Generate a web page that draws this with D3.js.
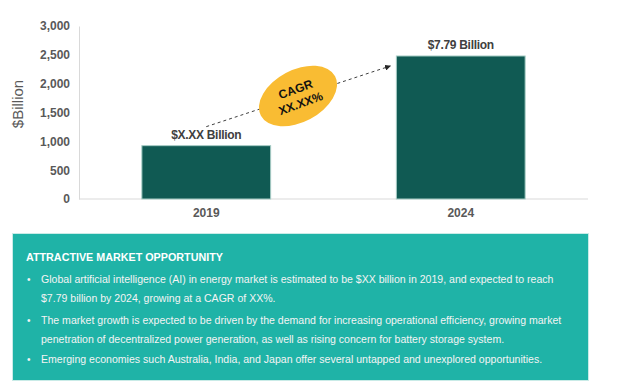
<!DOCTYPE html>
<meta charset="utf-8">
<style>
body { margin: 0; background: #fff; }
svg { font-family: "Liberation Sans", Arial, sans-serif; }
</style>
<body>
<script src="https://d3js.org/d3.v7.min.js"></script>
<script>

var years = ["2019", "2024"];
var values = [925, 2480];
var valueLabels = ["$X.XX Billion", "$7.79 Billion"];
var yTicks = [0, 500, 1000, 1500, 2000, 2500, 3000];
var cagrText = ["CAGR", "XX.XX%"];

var boxTitle = "ATTRACTIVE MARKET OPPORTUNITY";
var bullets = [
  ["Global artificial intelligence (AI) in energy market is estimated to be $XX billion in 2019, and expected to reach",
   "$7.79 billion by 2024, growing at a CAGR of XX%."],
  ["The market growth is expected to be driven by the demand for increasing operational efficiency, growing market",
   "penetration of decentralized power generation, as well as rising concern for battery storage system."],
  ["Emerging economies such Australia, India, and Japan offer several untapped and unexplored opportunities."]
];

var width = 618, height = 385;

var svg = d3.select("body").append("svg")
    .attr("width", width)
    .attr("height", height);

var x = d3.scaleBand()
  .domain(years)
  .range([79, 588])
  .paddingInner(0.494)
  .paddingOuter(0.247);

var y = d3.scaleLinear()
  .domain([0, 3000])
  .range([199, 26]);

// axes
var yAxis = svg.append("g")
  .attr("transform", "translate(79,0)")
  .call(d3.axisLeft(y).tickValues(yTicks).tickSize(0).tickPadding(9).tickFormat(d3.format(",")));
yAxis.select(".domain").attr("stroke", "#d9d9d9");
yAxis.selectAll("text")
  .style("font-size", "12px")
  .style("font-weight", "bold")
  .attr("fill", "#595959");

var xAxis = svg.append("g")
  .attr("transform", "translate(0,199)")
  .call(d3.axisBottom(x).tickSize(0).tickPadding(9));
xAxis.select(".domain").attr("stroke", "#d9d9d9").attr("d", "M79,0H588");
xAxis.selectAll("text")
  .style("font-size", "12px")
  .style("font-weight", "bold")
  .attr("fill", "#595959");

svg.append("text")
  .attr("transform", "translate(23,104) rotate(-90)")
  .attr("text-anchor", "middle")
  .style("font-size", "15px")
  .attr("fill", "#595959")
  .text("$Billion");

// bars
svg.selectAll(".bar")
  .data(values)
  .enter().append("rect")
  .attr("class", "bar")
  .attr("x", function(d, i) { return x(years[i]); })
  .attr("y", function(d) { return y(d); })
  .attr("width", x.bandwidth())
  .attr("height", function(d) { return y(0) - y(d); })
  .attr("fill", "#105a53")
  .attr("stroke", "#a7cdc6")
  .attr("stroke-width", 1);

svg.selectAll(".vlabel")
  .data(values)
  .enter().append("text")
  .attr("class", "vlabel")
  .attr("x", function(d, i) { return x(years[i]) + x.bandwidth() / 2; })
  .attr("y", function(d) { return y(d) - 6.5; })
  .attr("text-anchor", "middle")
  .style("font-size", "12px")
  .style("font-weight", "bold")
  .style("letter-spacing", "-0.3px")
  .attr("fill", "#404040")
  .text(function(d, i) { return valueLabels[i]; });

// growth arrow
svg.append("defs").append("marker")
  .attr("id", "head")
  .attr("viewBox", "0 0 10 10")
  .attr("refX", 9).attr("refY", 5)
  .attr("markerWidth", 6).attr("markerHeight", 6)
  .attr("orient", "auto")
  .append("path")
  .attr("d", "M0,0L10,5L0,10Z")
  .attr("fill", "#262626");

var x0 = x(years[0]) + x.bandwidth() / 2,
    y0 = y(values[0]) - 19,
    x1 = x(years[1]) - 6,
    y1 = y(values[1]) + 10;

svg.append("line")
  .attr("x1", x0).attr("y1", y0)
  .attr("x2", x1).attr("y2", y1)
  .attr("stroke", "#404040")
  .attr("stroke-width", 1)
  .attr("stroke-dasharray", "3,3")
  .attr("marker-end", "url(#head)");

var cx = 298, cy = 96;
var badge = svg.append("g")
  .attr("transform", "translate(" + cx + "," + cy + ") rotate(-28)");
badge.append("ellipse")
  .attr("rx", 42).attr("ry", 26)
  .attr("fill", "#f9bc33");
svg.append("g")
  .attr("transform", "translate(" + cx + "," + cy + ") rotate(-20)")
  .selectAll("text")
  .data(cagrText)
  .enter().append("text")
  .attr("x", 0)
  .attr("y", function(d, i) { return i * 15 - 3; })
  .attr("text-anchor", "middle")
  .style("font-size", "12px")
  .style("font-weight", "bold")
  .attr("fill", "#111")
  .text(function(d) { return d; });

// text box
svg.append("rect")
  .attr("x", 12.5).attr("y", 233.5)
  .attr("width", 576).attr("height", 147)
  .attr("fill", "#1fb3a7")
  .attr("stroke", "#c9ebe7")
  .attr("stroke-width", 1);

// fit a font size so a text reaches the wanted width
function fitSize(sel, wanted) {
  var w = sel.node().getComputedTextLength();
  var fs = parseFloat(sel.style("font-size"));
  return fs * wanted / w;
}

var title = svg.append("text")
  .attr("x", 26).attr("y", 261)
  .style("font-size", "10px")
  .style("font-weight", "bold")
  .attr("fill", "#ffffff")
  .text(boxTitle);
title.style("font-size", fitSize(title, 197) + "px");

var probe = svg.append("text").style("font-size", "10px").text(bullets[0][0]);
var bodySize = fitSize(probe, 513);
probe.remove();

var baselines = [[283, 302], [324, 343], [363]];
bullets.forEach(function(lines, b) {
  svg.append("text")
    .attr("x", 27).attr("y", baselines[b][0])
    .style("font-size", "10px")
    .attr("fill", "#f4f4f4")
    .text("\u2022");
  lines.forEach(function(line, j) {
    svg.append("text")
      .attr("x", 41).attr("y", baselines[b][j])
      .style("font-size", bodySize + "px")
      .attr("fill", "#f4f4f4")
      .text(line);
  });
});

</script>
</body>
